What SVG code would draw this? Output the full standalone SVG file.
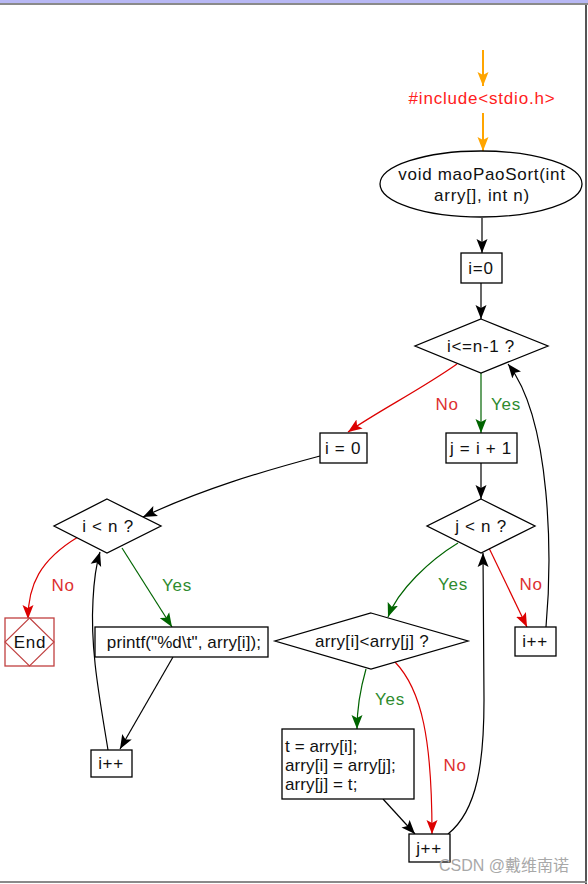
<svg xmlns="http://www.w3.org/2000/svg" width="588" height="884" viewBox="0 0 588 884">
<defs>
<style>
.n{fill:#fff;stroke:#000;stroke-width:1.3}
.t{font-family:"Liberation Sans",Arial,sans-serif;font-size:17px;letter-spacing:0.7px;fill:#111;text-anchor:middle}
.tl{font-family:"Liberation Sans",Arial,sans-serif;font-size:17px;letter-spacing:0.1px;fill:#111}
.c{fill:none;stroke-width:1.2}
.k{stroke:#000}
.r{stroke:#dd0000}
.g{stroke:#006400}
.o{stroke:#ffa500;stroke-width:2}
.ly{font-family:"Liberation Sans",Arial,sans-serif;font-size:17px;letter-spacing:0.7px;fill:#2e8b2e;text-anchor:middle}
.ln{font-family:"Liberation Sans",Arial,sans-serif;font-size:17px;letter-spacing:0.7px;fill:#dd3030;text-anchor:middle}
</style>
<marker id="ak" markerWidth="15" markerHeight="12" refX="14" refY="6" orient="auto" markerUnits="userSpaceOnUse"><path d="M0,0.5 L14,6 L0,11.5 L3,6 Z" fill="#000"/></marker>
<marker id="ar" markerWidth="15" markerHeight="12" refX="14" refY="6" orient="auto" markerUnits="userSpaceOnUse"><path d="M0,0.5 L14,6 L0,11.5 L3,6 Z" fill="#dd0000"/></marker>
<marker id="ag" markerWidth="15" markerHeight="12" refX="14" refY="6" orient="auto" markerUnits="userSpaceOnUse"><path d="M0,0.5 L14,6 L0,11.5 L3,6 Z" fill="#006400"/></marker>
<marker id="ao" markerWidth="15" markerHeight="12" refX="14" refY="6" orient="auto" markerUnits="userSpaceOnUse"><path d="M0,0.5 L14,6 L0,11.5 L3,6 Z" fill="#ffa500"/></marker>
</defs>
<rect x="0" y="0" width="588" height="884" fill="#fff"/>
<rect x="0" y="0" width="588" height="3" fill="#b8b8f4"/>
<rect x="0" y="3" width="588" height="2" fill="#8a8a8a"/>
<rect x="585" y="5" width="2" height="879" fill="#555"/>
<rect x="0" y="881" width="587" height="2" fill="#8a8a8a"/>

<g id="connectors">
<path class="c o" d="M483,50 L483,86" marker-end="url(#ao)"/>
<path class="c o" d="M483,113 L483,151" marker-end="url(#ao)"/>
<path class="c k" d="M482,218 L482,253" marker-end="url(#ak)"/>
<path class="c k" d="M481,283 L481,319" marker-end="url(#ak)"/>
<path class="c g" d="M481,373 L481,433" marker-end="url(#ag)"/>
<path class="c r" d="M457,364 C420,390 380,410 348,432" marker-end="url(#ar)"/>
<path class="c k" d="M546,627 C552,560 552,420 508,364" marker-end="url(#ak)"/>
<path class="c k" d="M481,463 L481,499" marker-end="url(#ak)"/>
<path class="c g" d="M458,543 C430,560 398,590 388,617" marker-end="url(#ag)"/>
<path class="c r" d="M489,548 L527,627" marker-end="url(#ar)"/>
<path class="c k" d="M448,834 C478,810 484,760 484,700 L483,553" marker-end="url(#ak)"/>
<path class="c g" d="M366,669 C360,690 357,710 357,729" marker-end="url(#ag)"/>
<path class="c r" d="M395,662 C422,690 432,740 432,834" marker-end="url(#ar)"/>
<path class="c k" d="M383,799 L415,834" marker-end="url(#ak)"/>
<path class="c k" d="M320,456 C260,472 200,490 143,517" marker-end="url(#ak)"/>
<path class="c r" d="M78,537 C40,560 28,585 28,619" marker-end="url(#ar)"/>
<path class="c g" d="M122,548 L172,627" marker-end="url(#ag)"/>
<path class="c k" d="M173,657 L120,749" marker-end="url(#ak)"/>
<path class="c k" d="M108,750 C100,700 90,650 93,600 C94,580 96,565 100,552" marker-end="url(#ak)"/>
</g>

<g id="labels">
<text class="ly" x="506" y="410">Yes</text>
<text class="ln" x="447" y="410">No</text>
<text class="ly" x="453" y="590">Yes</text>
<text class="ln" x="531" y="590">No</text>
<text class="ln" x="63" y="591">No</text>
<text class="ly" x="177" y="591">Yes</text>
<text class="ly" x="390" y="705">Yes</text>
<text class="ln" x="455" y="771">No</text>
</g>

<g id="include"><text x="482" y="104" style="font-family:'Liberation Sans',Arial,sans-serif;font-size:17px;letter-spacing:0.8px;fill:#ff2020;text-anchor:middle">#include&lt;stdio.h&gt;</text></g>
<g id="start"><ellipse class="n" cx="481" cy="184" rx="101" ry="33"/><text class="t" x="482" y="180">void maoPaoSort(int</text><text class="t" x="482" y="201">arry[], int n)</text></g>
<g id="i0"><rect class="n" x="461" y="253" width="41" height="30"/><text class="t" x="481" y="274">i=0</text></g>
<g id="cond1"><polygon class="n" points="481,319 548,346 481,373 415,346"/><text class="t" x="481" y="352">i&lt;=n-1 ?</text></g>
<g id="jset"><rect class="n" x="446" y="433" width="71" height="30"/><text class="t" x="481" y="454">j = i + 1</text></g>
<g id="i0b"><rect class="n" x="320" y="433" width="47" height="30"/><text class="t" x="343" y="454">i = 0</text></g>
<g id="cond2"><polygon class="n" points="481,499 535,526 481,553 427,526"/><text class="t" x="481" y="532">j &lt; n ?</text></g>
<g id="iinc"><rect class="n" x="515" y="627" width="41" height="29"/><text class="t" x="535" y="647">i++</text></g>
<g id="cond3"><polygon class="n" points="371,613 468,641 371,669 275,641"/><text class="t" x="372" y="647" style="letter-spacing:0.3px">arry[i]&lt;arry[j] ?</text></g>
<g id="swap"><rect class="n" x="282" y="729" width="132" height="70"/><text class="tl" x="285" y="752">t = arry[i];</text><text class="tl" x="285" y="771">arry[i] = arry[j];</text><text class="tl" x="285" y="790">arry[j] = t;</text></g>
<g id="jinc"><rect class="n" x="409" y="834" width="41" height="28"/><text class="t" x="429" y="854">j++</text></g>
<g id="cond4"><polygon class="n" points="107,499 161,526 107,553 54,526"/><text class="t" x="108" y="532">i &lt; n ?</text></g>
<g id="end"><rect x="5" y="618" width="49" height="48" fill="#fff" stroke="#c04040" stroke-width="1.3"/><polygon points="29.5,618 54,642 29.5,666 5,642" fill="none" stroke="#c04040" stroke-width="1.1"/><text class="t" x="30" y="648">End</text></g>
<g id="print"><rect class="n" x="95" y="627" width="173" height="30"/><text class="t" x="184" y="648" style="letter-spacing:0.1px">printf("%d\t", arry[i]);</text></g>
<g id="iinc2"><rect class="n" x="91" y="750" width="41" height="27"/><text class="t" x="111" y="769">i++</text></g>
<text x="504" y="871" style="font-family:'Liberation Sans','Noto Sans CJK SC',sans-serif;font-size:16px;fill:#a8a8a8;text-anchor:middle">CSDN @戴维南诺</text>
</svg>
